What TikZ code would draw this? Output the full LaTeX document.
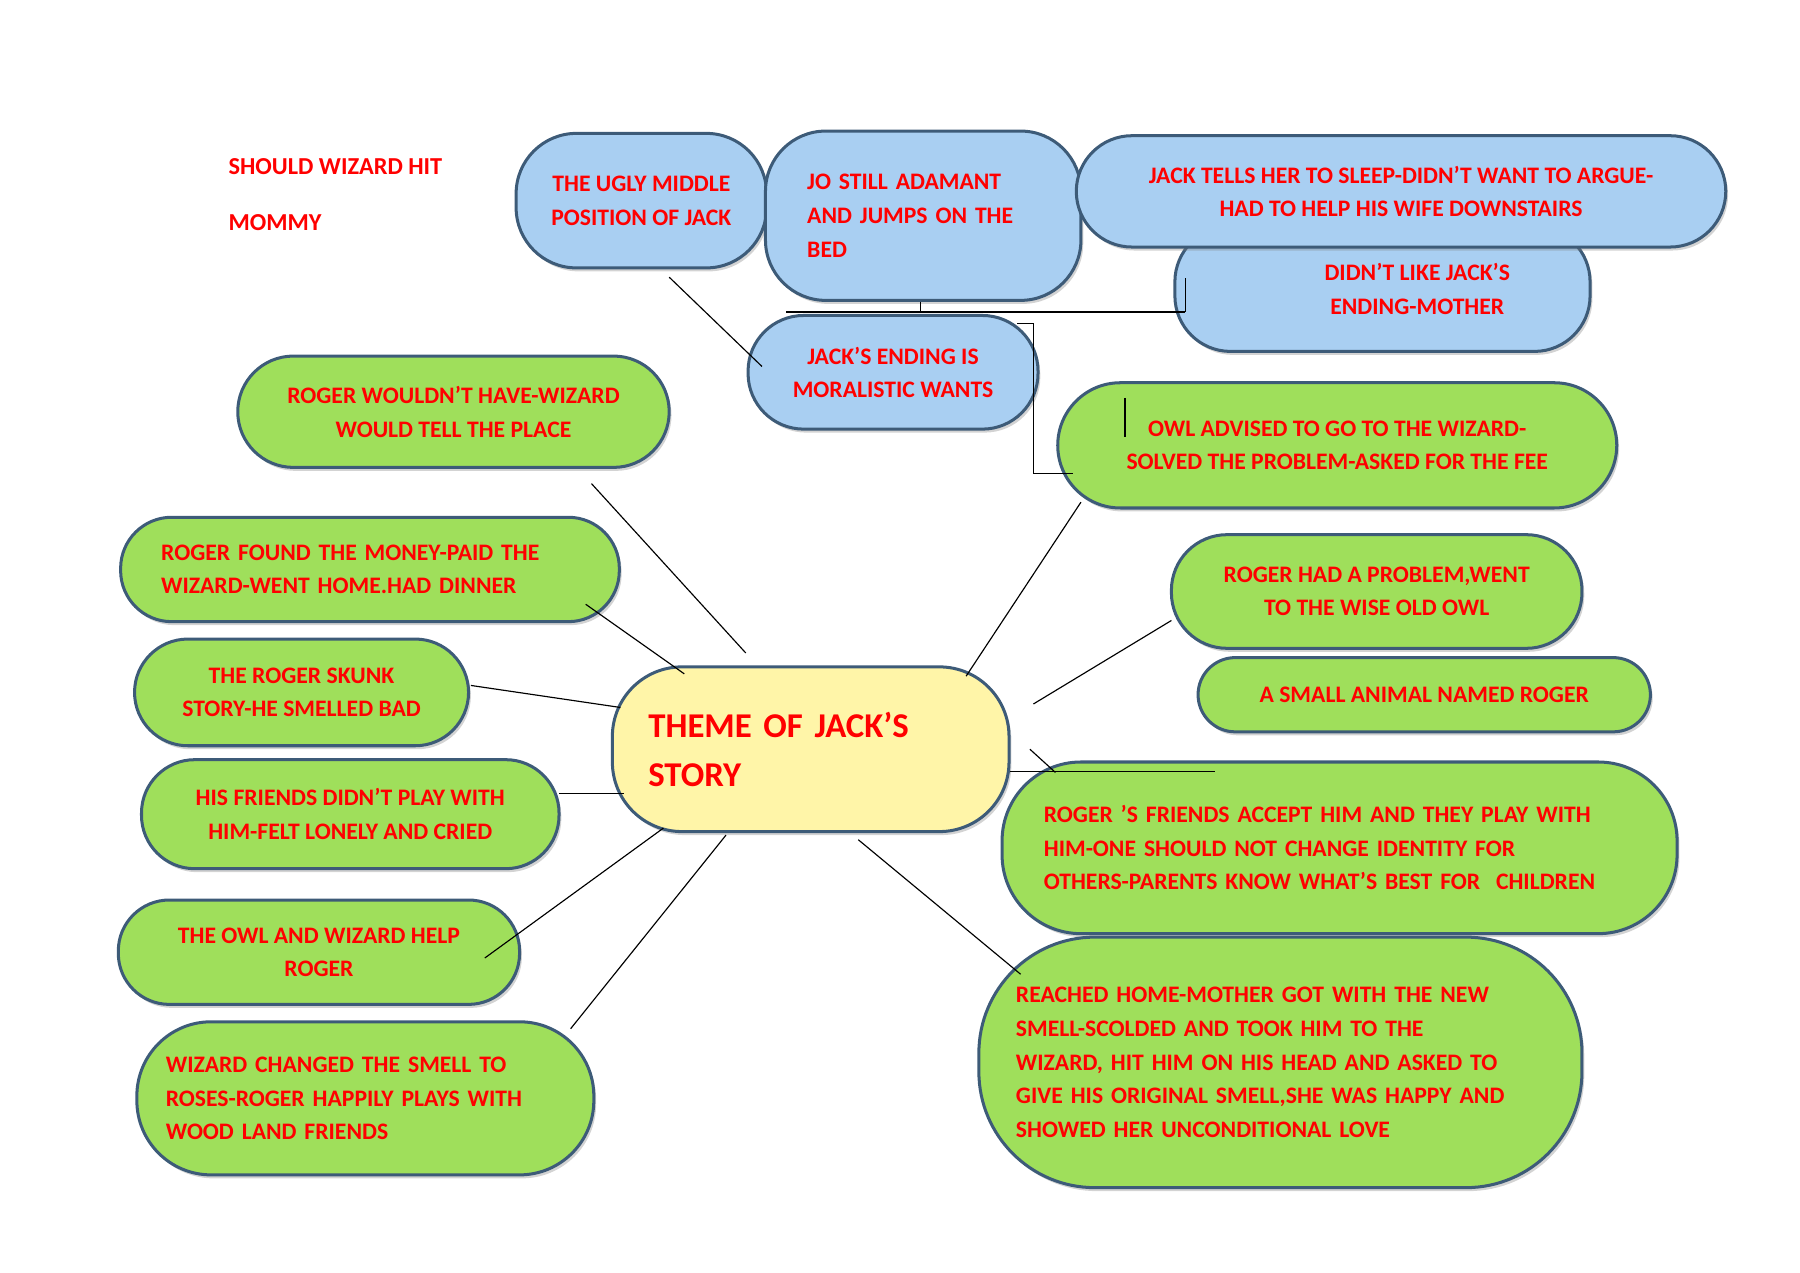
\documentclass[tikz,border=0pt]{standalone}
\usepackage{fontspec}
\setmainfont{Carlito}
\usetikzlibrary{shadows}
\definecolor{gfill}{HTML}{9FDF5B}
\definecolor{bfill}{HTML}{A9CFF2}
\definecolor{yfill}{HTML}{FFF5A8}
\definecolor{edge}{HTML}{3D5B78}
\begin{document}
\begin{tikzpicture}[x=0.5pt,y=-0.5pt,
 base/.style={draw=edge,line width=1.3pt,text=red,font=\bfseries\fontsize{10.2}{14.5}\selectfont,align=center,inner sep=2pt,drop shadow={shadow xshift=1pt,shadow yshift=-1.5pt,opacity=0.35}},
 gbox/.style={base,fill=gfill},
 bbox/.style={base,fill=bfill},
 ln/.style={draw=black,line width=0.5pt}]
\useasboundingbox (0,0) rectangle (1552,1097);
% blue
\node[bbox,minimum width=108pt,minimum height=58pt,rounded corners=26pt] (b1) at (553,173) {THE UGLY MIDDLE\\POSITION OF JACK};
\node[bbox,minimum width=136pt,minimum height=73pt,rounded corners=26pt,align=left,text width=100pt] (b2) at (796,186) {JO STILL ADAMANT\\AND JUMPS ON THE\\BED};
\node[bbox,minimum width=179pt,minimum height=54pt,rounded corners=24pt] (b4) at (1192,249) {\hspace*{30pt}DIDN'T LIKE JACK'S\\\hspace*{30pt}ENDING-MOTHER};
\node[bbox,minimum width=280pt,minimum height=48pt,rounded corners=24pt] (b3) at (1208,165) {JACK TELLS HER TO SLEEP-DIDN'T WANT TO ARGUE-\\HAD TO HELP HIS WIFE DOWNSTAIRS};
\node[bbox,minimum width=125pt,minimum height=49pt,rounded corners=24pt] (b5) at (770,321) {JACK'S ENDING IS\\MORALISTIC WANTS};
\node[text=red,font=\bfseries\fontsize{10.5}{24}\selectfont,align=left,anchor=north west] (t) at (190,130) {SHOULD WIZARD HIT\\MOMMY};
% green
\node[gbox,minimum width=186pt,minimum height=48pt,rounded corners=24pt] (g1) at (391,355) {ROGER WOULDN'T HAVE-WIZARD\\WOULD TELL THE PLACE};
\node[gbox,minimum width=241pt,minimum height=54pt,rounded corners=27pt] (g2) at (1153,384) {OWL ADVISED TO GO TO THE WIZARD-\\SOLVED THE PROBLEM-ASKED FOR THE FEE};
\node[gbox,minimum width=215pt,minimum height=45pt,rounded corners=22pt,align=left,text width=180pt] (g3) at (319,491) {ROGER FOUND THE MONEY-PAID THE\\WIZARD-WENT HOME.HAD DINNER};
\node[gbox,minimum width=177pt,minimum height=49pt,rounded corners=24pt] (g4) at (1187,510) {ROGER HAD A PROBLEM,WENT\\TO THE WISE OLD OWL};
\node[gbox,minimum width=144pt,minimum height=46pt,rounded corners=23pt] (g5) at (260,597) {THE ROGER SKUNK\\STORY-HE SMELLED BAD};
\node[gbox,minimum width=195pt,minimum height=32pt,rounded corners=16pt] (g6) at (1228,599) {A SMALL ANIMAL NAMED ROGER};
\node[base,fill=yfill,minimum width=171pt,minimum height=71pt,rounded corners=30pt,align=left,text width=140pt,font=\bfseries\fontsize{15}{21}\selectfont] (c) at (699,646) {THEME OF JACK'S\\STORY};
\node[gbox,minimum width=180pt,minimum height=47pt,rounded corners=23pt] (g7) at (302,702) {HIS FRIENDS DIDN'T PLAY WITH\\HIM-FELT LONELY AND CRIED};
\node[gbox,minimum width=291pt,minimum height=74pt,rounded corners=34pt,align=left,text width=255pt] (g8) at (1155,731) {ROGER 'S FRIENDS ACCEPT HIM AND THEY PLAY WITH\\HIM-ONE SHOULD NOT CHANGE IDENTITY FOR\\OTHERS-PARENTS KNOW WHAT'S BEST FOR~ CHILDREN};
\node[gbox,minimum width=173pt,minimum height=45pt,rounded corners=22pt] (g9) at (275,821) {THE OWL AND WIZARD HELP\\ROGER};
\node[gbox,minimum width=260pt,minimum height=108pt,rounded corners=50pt,align=left,text width=228pt] (g10) at (1104,916) {REACHED HOME-MOTHER GOT WITH THE NEW\\SMELL-SCOLDED AND TOOK HIM TO THE\\WIZARD, HIT HIM ON HIS HEAD AND ASKED TO\\GIVE HIS ORIGINAL SMELL,SHE WAS HAPPY AND\\SHOWED HER UNCONDITIONAL LOVE};
\node[gbox,minimum width=197pt,minimum height=66pt,rounded corners=32pt,align=left,text width=172pt] (g11) at (315,947) {WIZARD CHANGED THE SMELL TO\\ROSES-ROGER HAPPILY PLAYS WITH\\WOOD LAND FRIENDS};
% free connectors
\draw[ln] (510,417) -- (643,563);
\draw[ln] (505,521) -- (590,581);
\draw[ln] (406,591) -- (535,610);
\draw[ln] (482,684) -- (538,684);
\draw[ln] (418,826) -- (572,714);
\draw[ln] (492,887) -- (626,720);
\draw[ln] (740,724) -- (880,840);
\draw[ln] (871,665) -- (1048,665);
\draw[ln] (888,646) -- (910,666);
\draw[ln] (891,607) -- (1010,535);
\draw[ln] (833,583) -- (932,433);
\draw[ln] (577,239) -- (657,316);
\draw[ln] (678,269) -- (1022,269);
\draw[ln] (794,260) -- (794,269);
\draw[ln] (1022,240) -- (1022,269);
\draw[ln] (877,279) -- (891,279) -- (891,408) -- (925,408);
\draw[ln] (970,343) -- (970,377);
\end{tikzpicture}
\end{document}
